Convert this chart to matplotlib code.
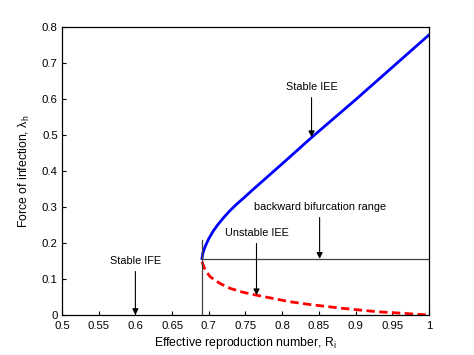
import matplotlib
matplotlib.use('Agg')
import matplotlib.pyplot as plt

plt.rcParams['font.family'] = ['Liberation Sans', 'DejaVu Sans']
plt.rcParams['mathtext.fontset'] = 'custom'
plt.rcParams['mathtext.rm'] = 'Liberation Sans'
plt.rcParams['mathtext.it'] = 'Liberation Sans'
plt.rcParams['mathtext.default'] = 'regular'

# stable endemic branch (blue)
r_stable = [0.6907, 0.692, 0.695, 0.700, 0.706, 0.712, 0.720, 0.728, 0.737,
            0.747, 0.760, 0.780, 0.800, 0.840, 0.900, 0.950, 1.000]
lam_stable = [0.157, 0.172, 0.190, 0.212, 0.233, 0.250, 0.270, 0.288, 0.306,
              0.324, 0.348, 0.384, 0.420, 0.493, 0.598, 0.688, 0.778]

# unstable endemic branch (red dashed)
r_unstable = [0.6907, 0.695, 0.702, 0.715, 0.729, 0.745, 0.765, 0.790, 0.810,
              0.838, 0.880, 0.930, 0.970, 1.000]
lam_unstable = [0.148, 0.125, 0.106, 0.088, 0.074, 0.064, 0.055, 0.045, 0.037,
                0.029, 0.019, 0.009, 0.004, 0.000]

# backward bifurcation markers
r_crit = 0.6907
lam_crit = 0.156
vline_top = 0.208

# annotations: (text, arrow tip R, arrow tip lambda, text R, text lambda)
notes = [
    ('Stable IEE', 0.840, 0.494, 0.840, 0.633),
    ('Stable IFE', 0.600, 0.000, 0.600, 0.150),
    ('Unstable IEE', 0.765, 0.055, 0.765, 0.228),
    ('backward bifurcation range', 0.851, 0.156, 0.851, 0.300),
]

fig = plt.figure(figsize=(4.74, 3.55), dpi=100)
ax = fig.add_axes([0.1308, 0.1127, 0.7742, 0.8113])

ax.plot(r_stable, lam_stable, color='#0000ff', lw=2)
ax.plot(r_unstable, lam_unstable, color='#ff0000', lw=2, ls=(0, (3, 1.6)))
ax.plot([r_crit, r_crit], [0, vline_top], color='#404040', lw=0.9)
ax.plot([r_crit, 1.0], [lam_crit, lam_crit], color='#404040', lw=0.9)

for txt, xt, yt, xx, yy in notes:
    ax.annotate(txt, xy=(xt, yt), xytext=(xx, yy), ha='center', va='center',
                fontsize=7.8,
                arrowprops=dict(arrowstyle='-|>', color='black', lw=0.8,
                                mutation_scale=9, shrinkA=2, shrinkB=0))

ax.set_xlim(0.5, 1.0)
ax.set_ylim(0, 0.8)
ax.set_xticks([0.5, 0.55, 0.6, 0.65, 0.7, 0.75, 0.8, 0.85, 0.9, 0.95, 1])
ax.set_xticklabels(['0.5', '0.55', '0.6', '0.65', '0.7', '0.75', '0.8',
                    '0.85', '0.9', '0.95', '1'])
ax.set_yticks([0, 0.1, 0.2, 0.3, 0.4, 0.5, 0.6, 0.7, 0.8])
ax.set_yticklabels(['0', '0.1', '0.2', '0.3', '0.4', '0.5', '0.6', '0.7', '0.8'])
ax.tick_params(direction='in', length=3, labelsize=8.2)
ax.tick_params(axis='x', pad=4)
ax.tick_params(axis='y', pad=3)
for s in ax.spines.values():
    s.set_linewidth(0.9)

ax.set_xlabel('Effective reproduction number, R$_i$', fontsize=8.8, labelpad=3)
ax.set_ylabel('Force of infection, λ$_h$', fontsize=8.8, labelpad=7)

fig.savefig('out.png', dpi=100)
